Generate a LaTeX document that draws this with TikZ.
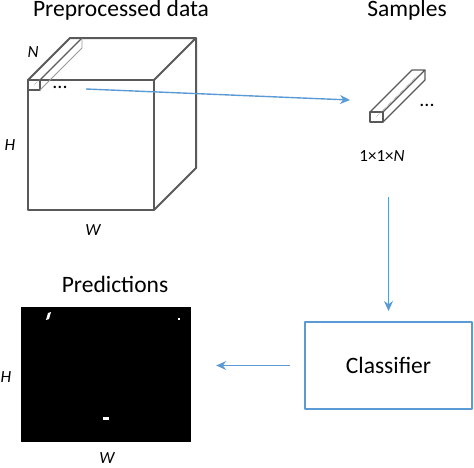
\documentclass[tikz,border=0pt]{standalone}
\usepackage{fontspec}
\setmainfont{Carlito}
\usetikzlibrary{arrows.meta, positioning}
\definecolor{flowblue}{HTML}{5B9BD5}
\definecolor{edgegray}{HTML}{595959}

\begin{document}
\begin{tikzpicture}[x=1pt, y=-1pt, >=Stealth, line join=round]
        % Estilos
        \tikzstyle{heading} = [font=\fontsize{23.5}{26}\selectfont]
        \tikzstyle{dimlabel} = [font=\fontsize{17}{19}\selectfont\itshape]
        \tikzstyle{edge} = [draw=edgegray, line width=2pt]
        \tikzstyle{inner} = [draw=gray!70, line width=0.7pt, densely dotted]
        \tikzstyle{flow} = [draw=flowblue, line width=1.4pt, ->, >={Stealth[length=10pt, width=9pt]}]
        \tikzstyle{block} = [draw=flowblue, line width=2pt, rectangle, minimum width=167pt, minimum height=87pt, font=\fontsize{23.5}{26}\selectfont]

        \useasboundingbox (0,0) rectangle (474,467);

        % Nodes
        \node [heading] (titleData) at (121,10) {Preprocessed data};
        \node [heading] (titleSamples) at (407,10) {Samples};
        \node [heading] (titlePred) at (115,284) {Predictions};
        \node [dimlabel] (labelN) at (33,52) {N};
        \node [dimlabel] (labelH) at (10,145) {H};
        \node [dimlabel] (labelW) at (93,230) {W};
        \node [font=\fontsize{20}{22}\selectfont] (dotsCube) at (60,87) {...};
        \node [font=\fontsize{20}{22}\selectfont] (dotsSample) at (427,105) {...};
        \node [font=\fontsize{17}{19}\selectfont] (sampleSize) at (382,156) {1×1×\textit{N}};
        \node [block] (classifier) at (388.5,365.5) {Classifier};
        \node [fill=black, minimum width=170pt, minimum height=135pt, inner sep=0pt] (predImg) at (106,374.5) {};
        \node [dimlabel] (labelH2) at (6,377) {H};
        \node [dimlabel] (labelW2) at (107,458) {W};
        \coordinate (cubeOut) at (86,89);
        \coordinate (sampleIn) at (350,100);
        \coordinate (sampleOut) at (388.5,197);

        % Cubo
        \draw [edge] (28,80) rectangle (154,210);
        \draw [edge] (28,80) -- (70,38) -- (196,38) -- (154,80);
        \draw [edge] (154,210) -- (196,168) -- (196,38);
        \draw [edge, line width=1.2pt] (28,80) rectangle (40,90);
        \draw [edge, line width=1.2pt] (40,80) -- (82,38);
        \draw [draw=gray!80, line width=0.8pt] (40,90) -- (82,48) -- (82,38);
        \draw [inner] (34,85) -- (76,43);

        % Muestra
        \draw [edge, line width=1.3pt] (370,112) rectangle (383,122);
        \draw [edge, line width=1.3pt] (370,112) -- (412,70) -- (425,70) -- (383,112);
        \draw [edge, line width=1.3pt] (383,122) -- (425,80) -- (425,70);
        \draw [inner] (376,117) -- (418,75);

        % Manchas
        \fill [white] (46,320) -- (48,313) -- (51,312) -- (49,319) -- cycle;
        \fill [white] (178,318) rectangle (180,320);
        \fill [white] (103,416.5) rectangle (109,419.5);

        % Lines
        \draw [flow] (cubeOut) -- (sampleIn);
        \draw [flow, shorten >=10pt] (sampleOut) -- (classifier.north);
        \draw [flow, shorten <=14pt, shorten >=25pt] (classifier.west) -- (classifier.west -| predImg.east);

\end{tikzpicture}
\end{document}
